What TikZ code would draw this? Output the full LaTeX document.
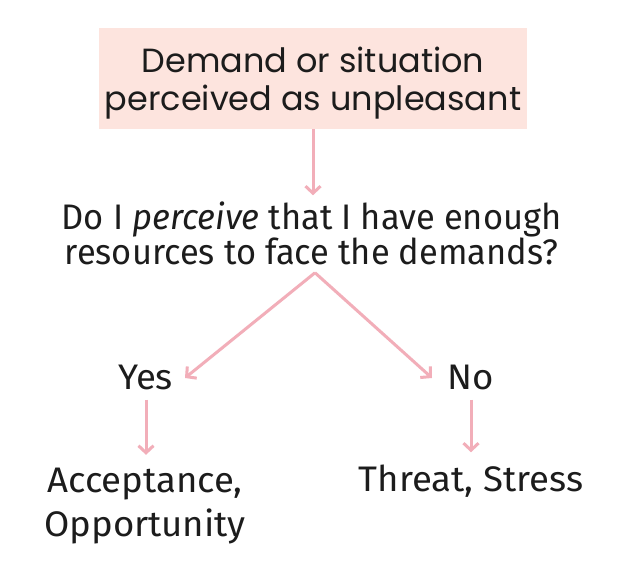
\documentclass[tikz,border=0pt]{standalone}
\usepackage{fontspec}
\usetikzlibrary{arrows.meta,calc}
\newfontfamily\boxfont{Poppins}
\newfontfamily\qfont[FakeStretch=0.97]{Fira Sans}
\newfontfamily\bfont[FakeStretch=1.03]{Fira Sans}
\definecolor{boxfill}{HTML}{FDE4DE}
\definecolor{arrowpink}{HTML}{F2AEB9}
\definecolor{ink}{HTML}{1C1C1C}
\tikzset{
  flow/.style={draw=arrowpink, line width=3pt, -{Straight Barb[length=7pt,width=15pt,line width=3pt]}},
  startbox/.style={fill=boxfill, minimum width=428pt, minimum height=101pt, inner sep=0pt, align=center,
     font=\boxfont\fontsize{33.5}{38}\selectfont, text=ink},
  question/.style={inner sep=0pt, align=center, font=\qfont\fontsize{35.5}{35}\selectfont, text=ink},
  label/.style={inner sep=0pt, align=center, font=\bfont\fontsize{35.5}{44}\selectfont, text=ink}
}
\begin{document}
\begin{tikzpicture}[x=1pt,y=1pt]
\useasboundingbox (0,0) rectangle (622,570);
\fill[white] (0,0) rectangle (622,570);
\node[startbox] (start) at (313,491.5) {\raisebox{-12pt}[0pt][0pt]{\begin{tabular}{@{}c@{}}Demand or situation\\perceived as unpleasant\end{tabular}}};
\node[question] (q) at (311.5,337) {Do I \textit{perceive} that I have enough\\resources to face the demands?};
\node[label, anchor=base] (yes) at (145.5,180) {Yes};
\node[label, anchor=base] (no) at (471,180) {No};
\node[label] (acc) at (145,64) {Acceptance,\\Opportunity};
\node[label, anchor=base] (thr) at (471,78) {Threat, Stress};
\draw[flow] (start.south -| 313,0) -- ($(q.north)+(1.5,6)$);
\draw[flow] ($(q.south)+(3.5,-8)$) -- ($(yes.base)+(39.5,12)$);
\draw[flow] ($(q.south)+(3.5,-8)$) -- ($(no.base)+(-39,12)$);
\draw[flow] ($(yes.base)+(0.5,-10)$) -- ($(acc.north)+(1,13)$);
\draw[flow] ($(no.base)+(0,-10)$) -- ($(thr.north)+(0,13)$);
\end{tikzpicture}
\end{document}
